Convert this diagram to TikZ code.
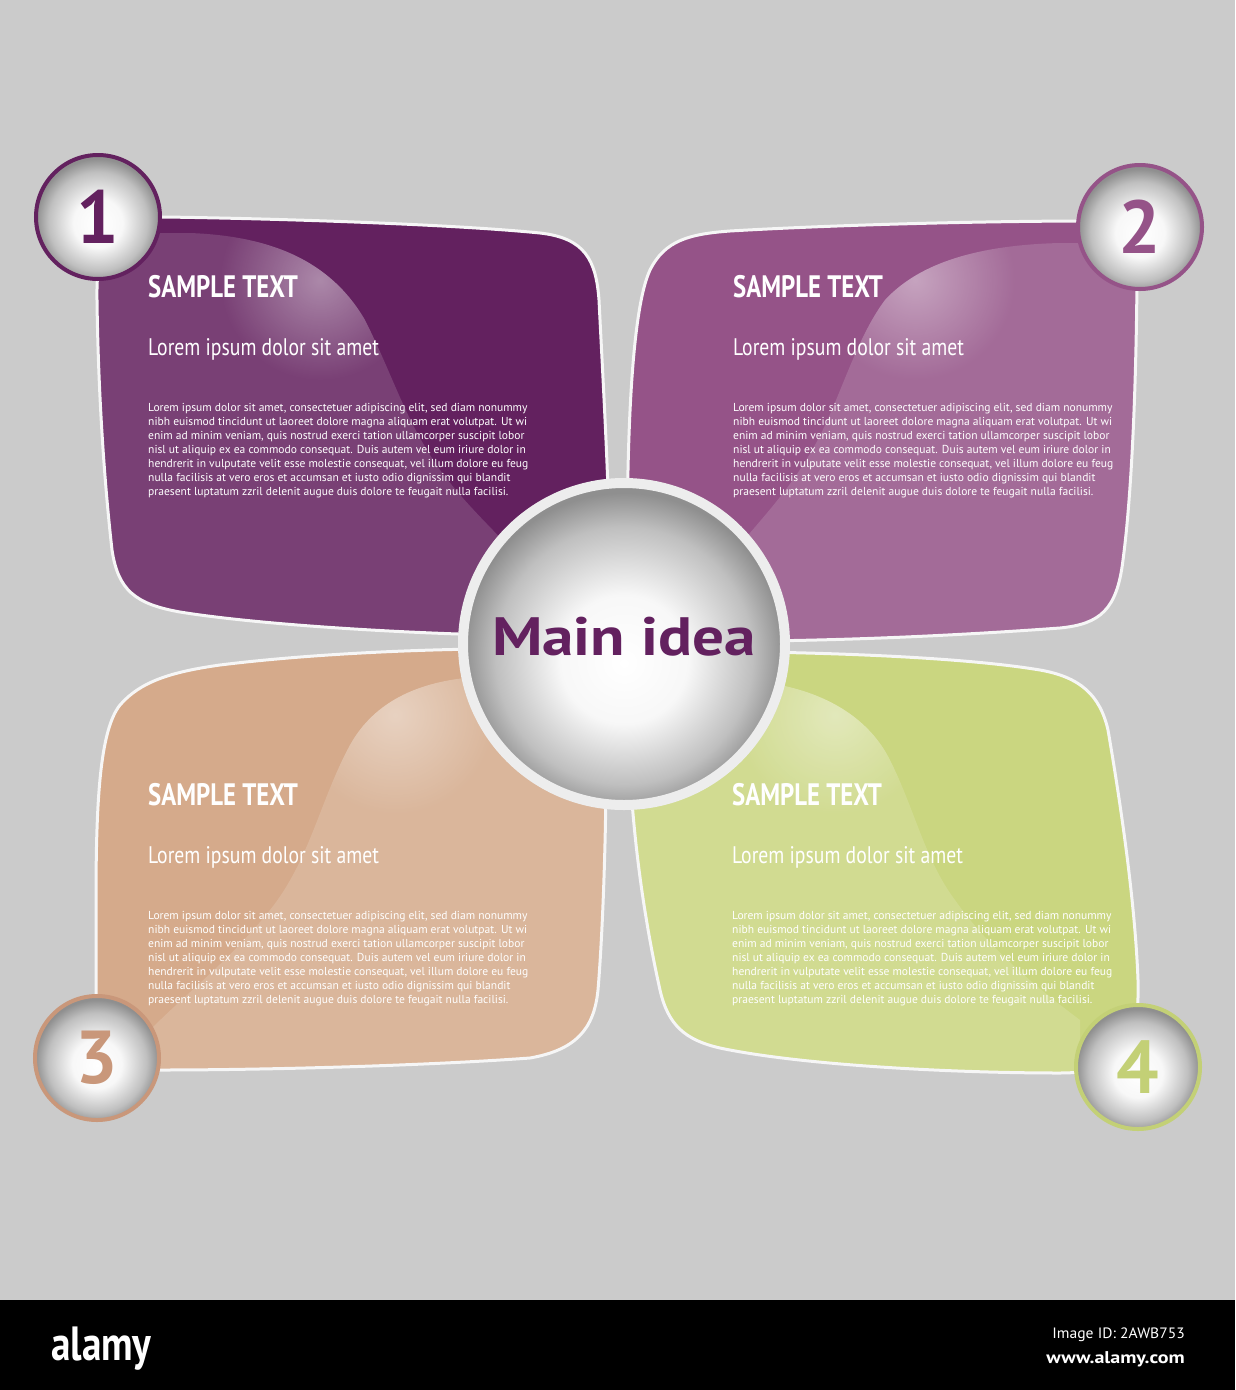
\documentclass[tikz,border=0pt]{standalone}
\usepackage{fontspec}
\usepackage{graphicx}
\setmainfont{PT Sans}
\usetikzlibrary{fadings}

\definecolor{bgcol}{HTML}{CBCBCB}
\definecolor{plumdark}{HTML}{63215F}
\definecolor{plummid}{HTML}{955388}
\definecolor{tanbox}{HTML}{D5AA8B}
\definecolor{tannum}{HTML}{C9977A}
\definecolor{limebox}{HTML}{CAD680}
\definecolor{limenum}{HTML}{C3D076}
\definecolor{rimcol}{HTML}{F6F6F6}
\definecolor{ringcol}{HTML}{EDEDED}

\pgfdeclareradialshading{ballshade}{\pgfpoint{0bp}{-3bp}}{color(0bp)=(white); color(10bp)=(white!97!black); color(20bp)=(white!75!black); color(25bp)=(white!56!black); color(50bp)=(white!56!black)}
\tikzfading[name=glowfade, inner color=transparent!0, outer color=transparent!100]

\tikzset{
  boxline/.style={draw=rimcol, line width=3pt},
  gloss/.style={fill=white, fill opacity=0.14},
  glow/.style={fill=white, fill opacity=0.38, path fading=glowfade},
  numball/.style={circle, minimum size=124pt, inner sep=0pt, line width=4pt, shade, shading=ballshade, font=\fontsize{75}{75}\selectfont\bfseries},
  headtext/.style={anchor=base west, inner sep=0pt, text=white, font=\fontsize{31}{31}\selectfont\bfseries},
  subtext/.style={anchor=base west, inner sep=0pt, text=white, font=\fontsize{24}{24}\selectfont},
  bodytext/.style={anchor=north west, inner sep=0pt, text=white, align=left, font=\fontsize{11.55}{14}\selectfont},
}

% box outlines
\newcommand\boxone{(97,300) .. controls (96,240) and (110,217) .. (165,217)
  .. controls (300,219) and (460,225) .. (540,233)
  .. controls (585,238) and (596,260) .. (599,300)
  .. controls (604,400) and (610,500) .. (610,590)
  .. controls (610,625) and (595,636) .. (550,636)
  .. controls (420,635) and (260,625) .. (180,612)
  .. controls (135,604) and (118,590) .. (112,550)
  .. controls (103,470) and (98,380) .. (97,300) -- cycle}
\newcommand\boxtwo{(628,470) .. controls (630,380) and (636,300) .. (650,270)
  .. controls (665,240) and (690,234) .. (730,231)
  .. controls (850,224) and (1000,221) .. (1090,221)
  .. controls (1125,221) and (1137,240) .. (1137,280)
  .. controls (1136,400) and (1131,500) .. (1123,560)
  .. controls (1117,610) and (1100,624) .. (1060,628)
  .. controls (950,636) and (850,640) .. (760,641)
  .. controls (640,642) and (627,630) .. (627,580)
  .. controls (627,540) and (627,500) .. (628,470) -- cycle}
\newcommand\boxthree{(96,900) .. controls (96,800) and (100,730) .. (120,705)
  .. controls (140,682) and (170,672) .. (220,665)
  .. controls (300,655) and (400,650) .. (480,649)
  .. controls (590,648) and (606,660) .. (606,720)
  .. controls (607,820) and (603,930) .. (598,990)
  .. controls (594,1030) and (575,1050) .. (530,1058)
  .. controls (420,1066) and (260,1070) .. (160,1070)
  .. controls (110,1070) and (96,1050) .. (96,1000) -- cycle}
\newcommand\boxfour{(628,700) .. controls (630,660) and (660,652) .. (760,652)
  .. controls (880,654) and (980,660) .. (1040,670)
  .. controls (1080,677) and (1100,695) .. (1108,730)
  .. controls (1120,800) and (1135,900) .. (1138,980)
  .. controls (1140,1050) and (1120,1073) .. (1060,1073)
  .. controls (950,1073) and (800,1065) .. (720,1048)
  .. controls (685,1040) and (668,1025) .. (660,990)
  .. controls (640,900) and (628,800) .. (628,700) -- cycle}

\newcommand\loremtext{Lorem ipsum dolor sit amet, consectetuer adipiscing elit, sed diam nonummy\\
nibh euismod tincidunt ut laoreet dolore magna aliquam erat volutpat. Ut wi\\
enim ad minim veniam, quis nostrud exerci tation ullamcorper suscipit lobor\\
nisl ut aliquip ex ea commodo consequat. Duis autem vel eum iriure dolor in\\
hendrerit in vulputate velit esse molestie consequat, vel illum dolore eu feug\\
nulla facilisis at vero eros et accumsan et iusto odio dignissim qui blandit\\
praesent luptatum zzril delenit augue duis dolore te feugait nulla facilisi.}

\begin{document}
\begin{tikzpicture}[x=1pt,y=-1pt]
\useasboundingbox (0,0) rectangle (1235,1390);
\fill[bgcol] (0,0) rectangle (1235,1300);
\fill[black] (0,1300) rectangle (1235,1390);

% box 1
\fill[plumdark] \boxone;
\begin{scope}
  \clip \boxone;
  \clip (80,233) -- (190,233) .. controls (270,236) and (330,260) .. (365,320)
    .. controls (395,380) and (405,420) .. (440,470)
    .. controls (470,510) and (500,535) .. (520,560) -- (520,700) -- (80,700) -- cycle;
  \fill[gloss] (0,0) rectangle (1235,1300);
  \fill[glow] (320,280) circle (100);
\end{scope}
\draw[boxline] \boxone;

% box 2
\fill[plummid] \boxtwo;
\begin{scope}
  \clip \boxtwo;
  \clip (1160,243) -- (1060,243) .. controls (980,245) and (920,262) .. (885,300)
    .. controls (855,340) and (840,400) .. (815,445)
    .. controls (790,490) and (760,520) .. (740,545) -- (740,700) -- (1160,700) -- cycle;
  \fill[gloss] (0,0) rectangle (1235,1300);
  \fill[glow] (915,280) circle (100);
\end{scope}
\draw[boxline] \boxtwo;

% box 3
\fill[tanbox] \boxthree;
\begin{scope}
  \clip \boxthree;
  \clip (465,678) .. controls (420,683) and (375,700) .. (350,745)
    .. controls (320,800) and (310,860) .. (270,910)
    .. controls (230,960) and (190,990) .. (150,1030) -- (110,1100) -- (620,1100) -- (620,640) -- (465,640) -- cycle;
  \fill[gloss] (0,0) rectangle (1235,1300);
  \fill[glow] (395,715) circle (100);
\end{scope}
\draw[boxline] \boxthree;

% box 4
\fill[limebox] \boxfour;
\begin{scope}
  \clip \boxfour;
  \clip (780,685) .. controls (830,695) and (870,720) .. (890,760)
    .. controls (915,810) and (925,860) .. (955,900)
    .. controls (990,950) and (1040,990) .. (1080,1020) -- (1080,1100) -- (600,1100) -- (600,685) -- cycle;
  \fill[glow] (835,715) circle (100);
  \fill[gloss] (0,0) rectangle (1235,1300);
\end{scope}
\draw[boxline] \boxfour;

% texts
\foreach \bx/\by/\i in {148/0/1, 733/0/2, 148/508/3, 732/508/4}{
  \node[headtext] (head\i) at (\bx,297+\by) {\scalebox{0.8}[1]{SAMPLE TEXT}};
  \node[subtext] (sub\i) at (\bx,355+\by) {\scalebox{0.82}[1]{Lorem ipsum dolor sit amet}};
  \node[bodytext] (body\i) at (\bx,403+\by) {\loremtext};
}

% centre and number balls
\node[circle, minimum size=322pt, inner sep=0pt, draw=ringcol, line width=10pt, shade, shading=ballshade] (main) at (624,644) {};
\node[inner sep=0pt, text=plumdark, font=\fontsize{54}{54}\selectfont\bfseries] (mainlabel) at (624,637) {\scalebox{1.17}[1]{Main idea}};
\node[numball, draw=plumdark, text=plumdark] (num1) at (98,217) {1};
\node[numball, draw=plummid, text=plummid] (num2) at (1140,227) {2};
\node[numball, draw=tannum, text=tannum] (num3) at (97,1058) {3};
\node[numball, draw=limenum, text=limenum] (num4) at (1138,1067) {4};

% bottom bar
\node[anchor=base west, inner sep=0pt, text=white, font=\fontsize{48}{48}\selectfont\bfseries] (logo) at (51,1360) {\scalebox{0.815}[1]{alamy}};
\node[anchor=base east, inner sep=0pt, text=white, font=\fontsize{15}{15}\selectfont] (imgid) at (1185,1338) {\scalebox{1.04}[1]{Image ID: 2AWB753}};
\node[anchor=base east, inner sep=0pt, text=white, font=\fontsize{17}{17}\selectfont\bfseries] (site) at (1185,1363) {\scalebox{1.18}[1]{www.alamy.com}};
\end{tikzpicture}
\end{document}
